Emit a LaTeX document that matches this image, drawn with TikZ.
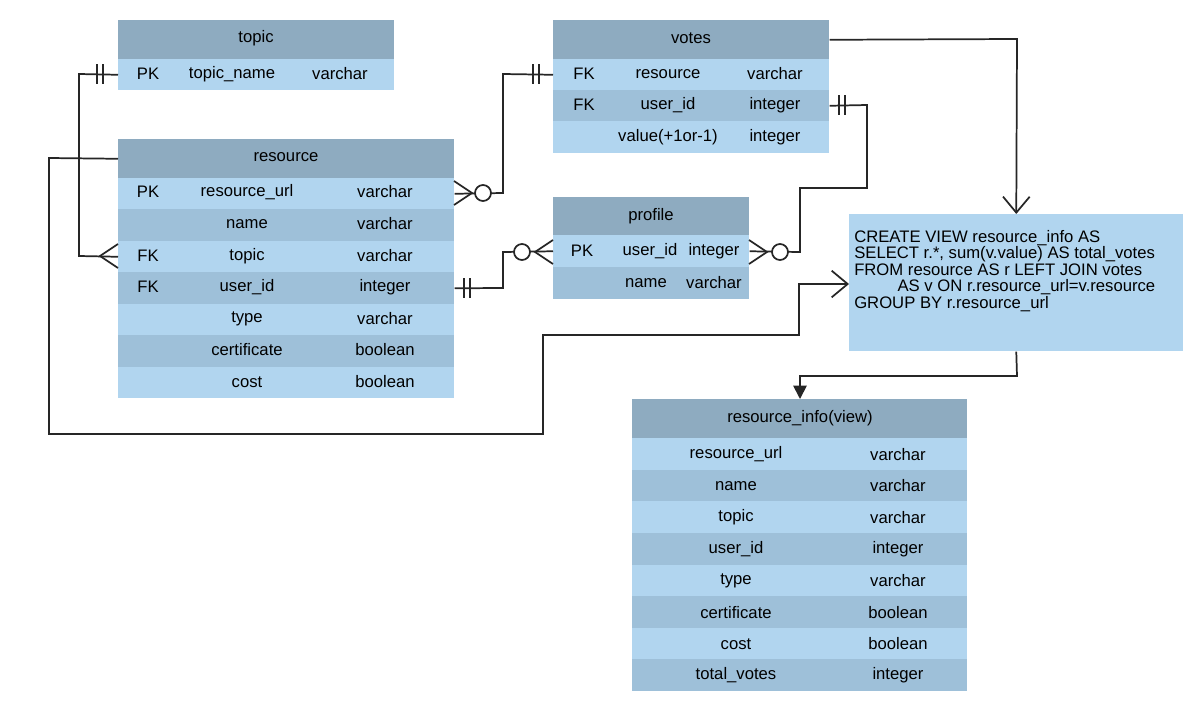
\documentclass[tikz,border=0pt]{standalone}
\usepackage{fontspec}
\setmainfont{Liberation Sans}
\usetikzlibrary{arrows.meta}
\definecolor{hdr}{HTML}{8EABC0}
\definecolor{lt}{HTML}{B1D5EF}
\definecolor{dk}{HTML}{9EC0D9}
\tikzset{
 cell/.style={anchor=north west,inner sep=0pt,draw=none,fill=#1},
 txt/.style={font=\fontsize{12.5}{15}\selectfont,inner sep=0pt},
 ln/.style={line width=1.3pt,draw=black!85},
 erm/.style={line width=1.3pt,draw=black!85}
}
\newcommand\cellbox[6]{\node[cell=#6,minimum width={(#4-#2)*0.75pt},minimum height={(#5-#3)*0.75pt}] (#1) at (#2,#3) {};}
\begin{document}
\begin{tikzpicture}[x=0.75pt,y=-0.75pt]
\useasboundingbox (0,0) rectangle (1200,711);
% topic
\cellbox{th}{118}{20}{394}{59}{hdr}
\cellbox{t1}{118}{59}{394}{90}{lt}
\node[txt] at (256,38) {topic};
\node[txt] at (148,74) {PK}; \node[txt] at (232,74) {topic\_name}; \node[txt] at (340,74) {varchar};
% votes
\cellbox{vh}{553}{20}{829}{59}{hdr}
\cellbox{v1}{553}{59}{829}{90}{lt}
\cellbox{v2}{553}{90}{829}{121}{dk}
\cellbox{v3}{553}{121}{829}{153}{lt}
\node[txt] at (691,38) {votes};
\node[txt] at (584,74) {FK}; \node[txt] at (668,74) {resource}; \node[txt] at (775,74) {varchar};
\node[txt] at (584,105) {FK}; \node[txt] at (668,105) {user\_id}; \node[txt] at (775,105) {integer};
\node[txt] at (668,137) {value(+1or-1)}; \node[txt] at (775,137) {integer};
% resource
\cellbox{rh}{118}{139}{454}{178}{hdr}
\cellbox{r1}{118}{178}{454}{209}{lt}
\cellbox{r2}{118}{209}{454}{241}{dk}
\cellbox{r3}{118}{241}{454}{272}{lt}
\cellbox{r4}{118}{272}{454}{304}{dk}
\cellbox{r5}{118}{304}{454}{335}{lt}
\cellbox{r6}{118}{335}{454}{367}{dk}
\cellbox{r7}{118}{367}{454}{398}{lt}
\node[txt] at (286,157) {resource};
\node[txt] at (148,192) {PK}; \node[txt] at (247,192) {resource\_url}; \node[txt] at (385,192) {varchar};
\node[txt] at (247,224) {name}; \node[txt] at (385,224) {varchar};
\node[txt] at (148,256) {FK}; \node[txt] at (247,256) {topic}; \node[txt] at (385,256) {varchar};
\node[txt] at (148,287) {FK}; \node[txt] at (247,287) {user\_id}; \node[txt] at (385,287) {integer};
\node[txt] at (247,319) {type}; \node[txt] at (385,319) {varchar};
\node[txt] at (247,350) {certificate}; \node[txt] at (385,350) {boolean};
\node[txt] at (247,382) {cost}; \node[txt] at (385,382) {boolean};
% profile
\cellbox{ph}{553}{197}{749}{235}{hdr}
\cellbox{p1}{553}{235}{749}{267}{lt}
\cellbox{p2}{553}{267}{749}{299}{dk}
\node[txt] at (651,216) {profile};
\node[txt] at (582,251) {PK}; \node[txt] at (650,251) {user\_id}; \node[txt] at (714,251) {integer};
\node[txt] at (646,283) {name}; \node[txt] at (714,283) {varchar};
% view box
\cellbox{vw}{849}{214}{1183}{351}{lt}
\node[txt,anchor=north west,align=left,font=\fontsize{12.5}{12.4}\selectfont] at (854,230) {CREATE VIEW resource\_info AS\\SELECT r.*, sum(v.value) AS total\_votes\\FROM resource AS r LEFT JOIN votes\\\hspace{2.6em}AS v ON r.resource\_url=v.resource\\GROUP BY r.resource\_url};
% resource_info
\cellbox{ih}{632}{399}{967}{438}{hdr}
\foreach \i/\a/\b/\c in {0/resource\_url/varchar/lt,1/name/varchar/dk,2/topic/varchar/lt,3/user\_id/integer/dk,4/type/varchar/lt,5/certificate/boolean/dk,6/cost/boolean/lt,7/total\_votes/integer/dk}{
 \pgfmathsetmacro\ya{438+31.6*\i}\pgfmathsetmacro\yb{438+31.6*(\i+1)}
 \cellbox{i\i}{632}{\ya}{967}{\yb}{\c}
 \node[txt] at (736,{(\ya+\yb)/2+0.5}) {\a};
 \node[txt] at (898,{(\ya+\yb)/2+0.5}) {\b};
}
\node[txt] at (800,418) {resource\_info(view)};
% connectors
\coordinate (a1) at (79,74); \coordinate (a2) at (79,256);
\draw[ln] (t1.west) -- (a1) -- (a2) -- (r3.west);
\coordinate (b1) at (503,193); \coordinate (b2) at (503,74);
\draw[ln] (r1.east) -- (b1) -- (b2) -- (v1.west);
\coordinate (c1) at (503,288); \coordinate (c2) at (503,252);
\draw[ln] (r4.east) -- (c1) -- (c2) -- (p1.west);
\coordinate (d1) at (867,105); \coordinate (d2) at (867,188); \coordinate (d3) at (800,188); \coordinate (d4) at (800,252);
\draw[ln] (v2.east) -- (d1) -- (d2) -- (d3) -- (d4) -- (p1.east);
\coordinate (e1) at (1017,39);
\draw[ln,-{Straight Barb[length=12pt,width=20pt]}] (vh.east) -- (e1) -- (vw.north);
\coordinate (f1) at (49,158); \coordinate (f2) at (49,434); \coordinate (f3) at (543,434); \coordinate (f4) at (543,335); \coordinate (f5) at (799,335); \coordinate (f6) at (799,284);
\draw[ln,-{Straight Barb[length=12pt,width=20pt]}] (rh.west) -- (f1) -- (f2) -- (f3) -- (f4) -- (f5) -- (f6) -- (849,284);
\coordinate (g1) at (1017,376); \coordinate (g2) at (800,376);
\draw[ln,-{Triangle[length=10pt,width=10pt]}] (vw.south) -- (g1) -- (g2) -- (ih.north -| g2);
% double bars
\foreach \x/\y in {97/74,103/74,533/74,539/74,464/288,470/288,839/105,845/105}{\draw[erm] (\x,\y-10) -- (\x,\y+10);}
% crow's feet
\draw[erm] (118,244) -- (100,256) -- (118,268);
\draw[erm] (454,181) -- (472,193) -- (454,205);
\draw[erm] (553,240) -- (535,252) -- (553,264);
\draw[erm] (749,240) -- (767,252) -- (749,264);
% circles
\foreach \x/\y in {483/193,522/252,780/252}{\draw[erm,fill=white] (\x,\y) circle[radius=8];}
\end{tikzpicture}
\end{document}
